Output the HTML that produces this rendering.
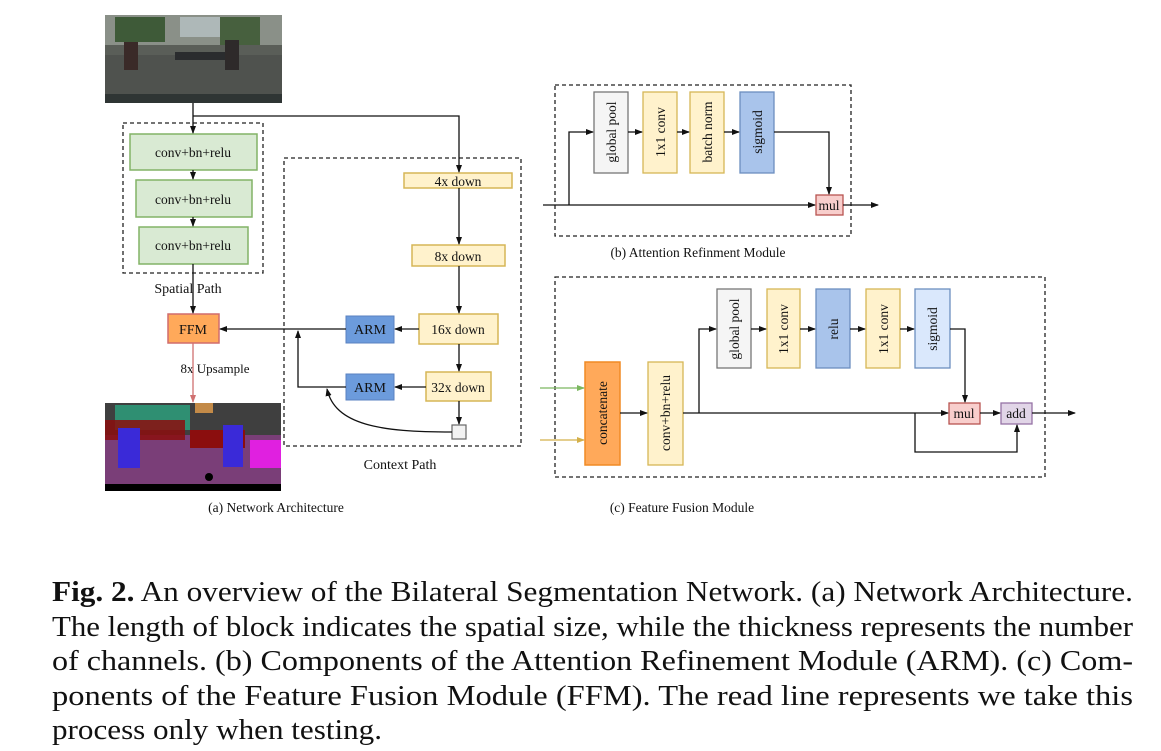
<!DOCTYPE html>
<html><head><meta charset="utf-8"><style>
html,body{margin:0;padding:0;background:#fff;}
svg{display:block;font-family:"Liberation Serif",serif;}
</style></head><body>
<svg width="1161" height="751" viewBox="0 0 1161 751" xmlns="http://www.w3.org/2000/svg">
<defs>
<marker id="a" markerWidth="8" markerHeight="6" refX="7" refY="3" orient="auto" markerUnits="userSpaceOnUse"><path d="M0,0 L8,3 L0,6 z" fill="#111"/></marker>
<marker id="ag" markerWidth="8" markerHeight="6" refX="7" refY="3" orient="auto" markerUnits="userSpaceOnUse"><path d="M0,0 L8,3 L0,6 z" fill="#7cb860"/></marker>
<marker id="ay" markerWidth="8" markerHeight="6" refX="7" refY="3" orient="auto" markerUnits="userSpaceOnUse"><path d="M0,0 L8,3 L0,6 z" fill="#d4b04a"/></marker>
<marker id="ar" markerWidth="8" markerHeight="6" refX="7" refY="3" orient="auto" markerUnits="userSpaceOnUse"><path d="M0,0 L8,3 L0,6 z" fill="#d07070"/></marker>
</defs>

<!-- photo -->
<rect x="105" y="15" width="177" height="88" fill="#5a5e58"/>
<rect x="105" y="15" width="177" height="30" fill="#8a9088"/>
<rect x="115" y="17" width="50" height="25" fill="#3e5a38"/>
<rect x="180" y="17" width="40" height="20" fill="#aeb8b8"/>
<rect x="220" y="17" width="40" height="28" fill="#47603e"/>
<rect x="105" y="55" width="177" height="48" fill="#4f524e"/>
<rect x="124" y="42" width="14" height="28" fill="#3a2a28"/>
<rect x="175" y="52" width="55" height="8" fill="#2a2c2e"/>
<rect x="225" y="40" width="14" height="30" fill="#2e2a2a"/>
<rect x="105" y="94" width="177" height="9" fill="#2f3534"/>

<!-- seg image -->
<rect x="105" y="403" width="176" height="88" fill="#7a3e78"/>
<rect x="105" y="403" width="176" height="32" fill="#3f3f3f"/>
<rect x="115" y="405" width="75" height="25" fill="#2f8f72"/>
<rect x="195" y="403" width="18" height="10" fill="#c38a48"/>
<rect x="105" y="420" width="80" height="20" fill="#8b0e0e" opacity="0.85"/>
<rect x="190" y="430" width="55" height="18" fill="#8b0e0e"/>
<rect x="250" y="440" width="31" height="28" fill="#e020e0"/>
<rect x="118" y="428" width="22" height="40" fill="#3a2ad8"/>
<rect x="223" y="425" width="20" height="42" fill="#3a2ad8"/>
<rect x="105" y="484" width="176" height="7" fill="#000"/>
<circle cx="209" cy="477" r="4" fill="#000"/>

<g stroke="#222" stroke-width="1.3" fill="none" stroke-dasharray="4,3">
<rect x="123" y="123" width="140" height="150"/>
<rect x="284" y="158" width="237" height="288"/>
<rect x="555" y="85" width="296" height="151"/>
<rect x="555" y="277" width="490" height="200"/>
</g>

<g font-size="13.5" text-anchor="middle" fill="#111">
<rect x="130" y="134" width="127" height="36" fill="#d9ead3" stroke="#82b366" stroke-width="1.5"/>
<text x="193" y="157">conv+bn+relu</text>
<rect x="136" y="180" width="116" height="37" fill="#d9ead3" stroke="#82b366" stroke-width="1.5"/>
<text x="193" y="204">conv+bn+relu</text>
<rect x="139" y="227" width="109" height="37" fill="#d9ead3" stroke="#82b366" stroke-width="1.5"/>
<text x="193" y="250">conv+bn+relu</text>
<text x="188" y="293" font-size="14">Spatial  Path</text>
<rect x="168" y="314" width="51" height="29" fill="#ffa95a" stroke="#d06c6c" stroke-width="1.5"/>
<text x="193" y="334" font-size="14">FFM</text>
<text x="215" y="373" font-size="13">8x Upsample</text>

<rect x="404" y="173" width="108" height="15" fill="#fff2cc" stroke="#d6b656" stroke-width="1.5"/>
<text x="458" y="186">4x down</text>
<rect x="412" y="245" width="93" height="21" fill="#fff2cc" stroke="#d6b656" stroke-width="1.5"/>
<text x="458" y="261">8x down</text>
<rect x="419" y="314" width="79" height="30" fill="#fff2cc" stroke="#d6b656" stroke-width="1.5"/>
<text x="458" y="334">16x down</text>
<rect x="426" y="372" width="65" height="29" fill="#fff2cc" stroke="#d6b656" stroke-width="1.5"/>
<text x="458" y="392">32x down</text>
<rect x="346" y="316" width="48" height="27" fill="#6c9bdc" stroke="#5a82c0" stroke-width="1"/>
<text x="370" y="334" font-size="14">ARM</text>
<rect x="346" y="374" width="48" height="26" fill="#6c9bdc" stroke="#5a82c0" stroke-width="1"/>
<text x="370" y="392" font-size="14">ARM</text>
<rect x="452" y="425" width="14" height="14" fill="#f2f2f2" stroke="#666" stroke-width="1.2"/>
<text x="400" y="469" font-size="14">Context Path</text>
<text x="276" y="512" font-size="13.5">(a) Network Architecture</text>

<!-- ARM module -->
<rect x="594" y="92" width="34" height="81" fill="#f5f5f5" stroke="#777" stroke-width="1.3"/>
<rect x="643" y="92" width="34" height="81" fill="#fff2cc" stroke="#d6b656" stroke-width="1.3"/>
<rect x="690" y="92" width="34" height="81" fill="#fff2cc" stroke="#d6b656" stroke-width="1.3"/>
<rect x="740" y="92" width="34" height="81" fill="#a9c4eb" stroke="#6c8ebf" stroke-width="1.3"/>
<text transform="translate(616,132) rotate(-90)">global pool</text>
<text transform="translate(665,132) rotate(-90)">1x1 conv</text>
<text transform="translate(712,132) rotate(-90)">batch norm</text>
<text transform="translate(762,132) rotate(-90)">sigmoid</text>
<rect x="816" y="195" width="27" height="20" fill="#f8cecc" stroke="#b85450" stroke-width="1.3"/>
<text x="829" y="210">mul</text>
<text x="698" y="257" font-size="13.5">(b) Attention Refinment Module</text>

<!-- FFM module -->
<rect x="585" y="362" width="35" height="103" fill="#ffa95a" stroke="#f08a24" stroke-width="1.5"/>
<rect x="648" y="362" width="35" height="103" fill="#fff2cc" stroke="#d6b656" stroke-width="1.3"/>
<rect x="717" y="289" width="34" height="79" fill="#f5f5f5" stroke="#777" stroke-width="1.3"/>
<rect x="767" y="289" width="33" height="79" fill="#fff2cc" stroke="#d6b656" stroke-width="1.3"/>
<rect x="816" y="289" width="34" height="79" fill="#a9c4eb" stroke="#6c8ebf" stroke-width="1.3"/>
<rect x="866" y="289" width="34" height="79" fill="#fff2cc" stroke="#d6b656" stroke-width="1.3"/>
<rect x="915" y="289" width="35" height="79" fill="#dae8fc" stroke="#6c8ebf" stroke-width="1.3"/>
<text transform="translate(607,413) rotate(-90)">concatenate</text>
<text transform="translate(670,413) rotate(-90)">conv+bn+relu</text>
<text transform="translate(739,329) rotate(-90)">global pool</text>
<text transform="translate(788,329) rotate(-90)">1x1 conv</text>
<text transform="translate(838,329) rotate(-90)">relu</text>
<text transform="translate(888,329) rotate(-90)">1x1 conv</text>
<text transform="translate(937,329) rotate(-90)">sigmoid</text>
<rect x="949" y="403" width="31" height="21" fill="#f8cecc" stroke="#b85450" stroke-width="1.3"/>
<text x="964" y="418">mul</text>
<rect x="1001" y="403" width="31" height="21" fill="#e1d5e7" stroke="#9673a6" stroke-width="1.3"/>
<text x="1016" y="418">add</text>
<text x="682" y="512" font-size="13.5">(c) Feature Fusion Module</text>
</g>

<g stroke="#111" stroke-width="1.3" fill="none">
<path d="M193,103 V133" marker-end="url(#a)"/>
<path d="M193,116 H459 V172" marker-end="url(#a)"/>
<path d="M193,170 V179" marker-end="url(#a)"/>
<path d="M193,217 V226" marker-end="url(#a)"/>
<path d="M193,264 V313" marker-end="url(#a)"/>
<path d="M459,188 V244" marker-end="url(#a)"/>
<path d="M459,266 V313" marker-end="url(#a)"/>
<path d="M459,344 V371" marker-end="url(#a)"/>
<path d="M459,401 V424" marker-end="url(#a)"/>
<path d="M419,329 H395" marker-end="url(#a)"/>
<path d="M426,387 H395" marker-end="url(#a)"/>
<path d="M346,329 H220" marker-end="url(#a)"/>
<path d="M346,387 H298 V331" marker-end="url(#a)"/>
<path d="M452,432 C380,432 335,425 327,389" marker-end="url(#a)"/>
<path d="M543,205 H815" marker-end="url(#a)"/>
<path d="M569,205 V132 H593" marker-end="url(#a)"/>
<path d="M628,132 H642" marker-end="url(#a)"/>
<path d="M677,132 H689" marker-end="url(#a)"/>
<path d="M724,132 H739" marker-end="url(#a)"/>
<path d="M774,132 H829 V194" marker-end="url(#a)"/>
<path d="M843,205 H878" marker-end="url(#a)"/>
<path d="M620,413 H647" marker-end="url(#a)"/>
<path d="M683,413 H948" marker-end="url(#a)"/>
<path d="M699,413 V329 H716" marker-end="url(#a)"/>
<path d="M751,329 H766" marker-end="url(#a)"/>
<path d="M800,329 H815" marker-end="url(#a)"/>
<path d="M850,329 H865" marker-end="url(#a)"/>
<path d="M900,329 H914" marker-end="url(#a)"/>
<path d="M950,329 H965 V402" marker-end="url(#a)"/>
<path d="M980,413 H1000" marker-end="url(#a)"/>
<path d="M915,413 V452 H1017 V425" marker-end="url(#a)"/>
<path d="M1032,413 H1075" marker-end="url(#a)"/>
</g>
<path d="M540,388 H584" stroke="#7cb860" stroke-width="1.2" marker-end="url(#ag)"/>
<path d="M540,440 H584" stroke="#d4b04a" stroke-width="1.2" marker-end="url(#ay)"/>
<path d="M193,343 V402" stroke="#d07070" stroke-width="1.3" marker-end="url(#ar)"/>

<g font-size="29" fill="#111">
<text x="52" y="601" textLength="1081" lengthAdjust="spacingAndGlyphs"><tspan font-weight="bold">Fig. 2.</tspan> An overview of the Bilateral Segmentation Network. (a) Network Architecture.</text>
<text x="52" y="636" textLength="1081" lengthAdjust="spacingAndGlyphs">The length of block indicates the spatial size, while the thickness represents the number</text>
<text x="52" y="670" textLength="1081" lengthAdjust="spacingAndGlyphs">of channels. (b) Components of the Attention Refinement Module (ARM). (c) Com-</text>
<text x="52" y="705" textLength="1081" lengthAdjust="spacingAndGlyphs">ponents of the Feature Fusion Module (FFM). The read line represents we take this</text>
<text x="52" y="739" textLength="330" lengthAdjust="spacingAndGlyphs">process only when testing.</text>
</g>
</svg>
</body></html>
